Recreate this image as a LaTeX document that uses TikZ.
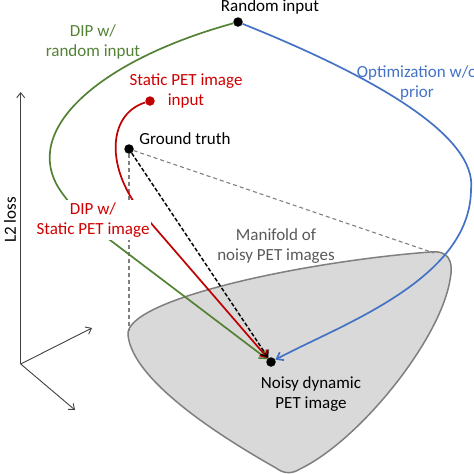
\documentclass[tikz,border=0pt]{standalone}
\usepackage{fontspec}
\setmainfont{Carlito}
\usetikzlibrary{arrows.meta}
\definecolor{cgreen}{HTML}{548235}
\definecolor{cred}{HTML}{C00000}
\definecolor{credtext}{HTML}{D00000}
\definecolor{cblue}{HTML}{4472C4}
\definecolor{cfill}{HTML}{D9D9D9}
\definecolor{cedge}{HTML}{7F7F7F}
\definecolor{cgraytext}{HTML}{595959}
\definecolor{caxis}{HTML}{404040}
\begin{document}
\begin{tikzpicture}[x=1pt,y=-1pt,
  font=\fontsize{17}{20.5}\selectfont,
  dot/.style={circle,fill=black,inner sep=0pt,minimum size=9.5pt},
  lbl/.style={align=center,inner sep=0pt},
  curve/.style={line width=1.7pt,-{Straight Barb[length=6pt,width=9pt]}},
  axis/.style={draw=caxis,line width=0.9pt,-{Straight Barb[length=5pt,width=8pt]}},
  guide/.style={draw=gray,line width=1.1pt,dash pattern=on 4pt off 3pt}]
\useasboundingbox (0,0) rectangle (474,474);
% manifold
\path[draw=cedge,fill=cfill,line width=1.5pt]
  (128,335) .. controls (124,300) and (300,262) .. (430,252)
  .. controls (448,250) and (454,260) .. (450,280)
  .. controls (440,340) and (360,440) .. (300,469)
  .. controls (292,474) and (284,474) .. (276,468)
  .. controls (200,425) and (132,375) .. (128,335) -- cycle;
% axes
\coordinate (o) at (20.7,364);
\coordinate (ay) at (20.7,92);
\coordinate (ax) at (92,328);
\coordinate (az) at (75,410);
\draw[axis] (o) -- (ay);
\draw[axis] (o) -- (ax);
\draw[axis] (o) -- (az);
\node[rotate=90,inner sep=0pt] (l2) at (10,220) {L2 loss};
% points
\node[dot] (rand) at (238,22) {};
\node[dot,fill=cred] (sdot) at (150,101) {};
\node[dot] (gt) at (129,149) {};
\node[dot] (noisy) at (271,362) {};
% guide lines
\coordinate (gl) at (129,331);
\coordinate (gr) at (434,253);
\draw[guide] (gt) -- (gl);
\draw[guide] (gt) -- (gr);
% curves
\draw[curve,cgreen] (rand) .. controls (100,60) and (20,130) .. (60,190)
  .. controls (75,212) and (90,225) .. (110,240) -- (noisy);
\draw[curve,cred] (sdot) .. controls (105,115) and (105,175) .. (150,222) -- (noisy);
\draw[curve,cblue] (rand) .. controls (370,75) and (478,135) .. (471,190)
  .. controls (470,280) and (340,325) .. (noisy);
\draw[line width=1.4pt,dash pattern=on 4pt off 2pt,-{Straight Barb[length=6pt,width=9pt]}] (gt) -- (noisy);
% labels
\node[lbl] (trand) at (270,7) {Random input};
\node[lbl,text=cgreen] (tgreen) at (93,42) {DIP w/\\random input};
\node[lbl,text=credtext] (tsin) at (186,91) {Static PET image\\input};
\node[lbl] (tgt) at (185,139) {Ground truth};
\node[lbl,text=cblue] (tblue) at (417,83) {Optimization w/o\\prior};
\node[lbl,text=credtext,fill=white,inner sep=2pt] (tdip) at (93,220) {DIP w/\\Static PET image};
\node[lbl,text=cgraytext] (tman) at (276,246) {Manifold of\\noisy PET images};
\node[lbl] (tnoisy) at (311,394) {Noisy dynamic\\PET image};
\end{tikzpicture}
\end{document}
